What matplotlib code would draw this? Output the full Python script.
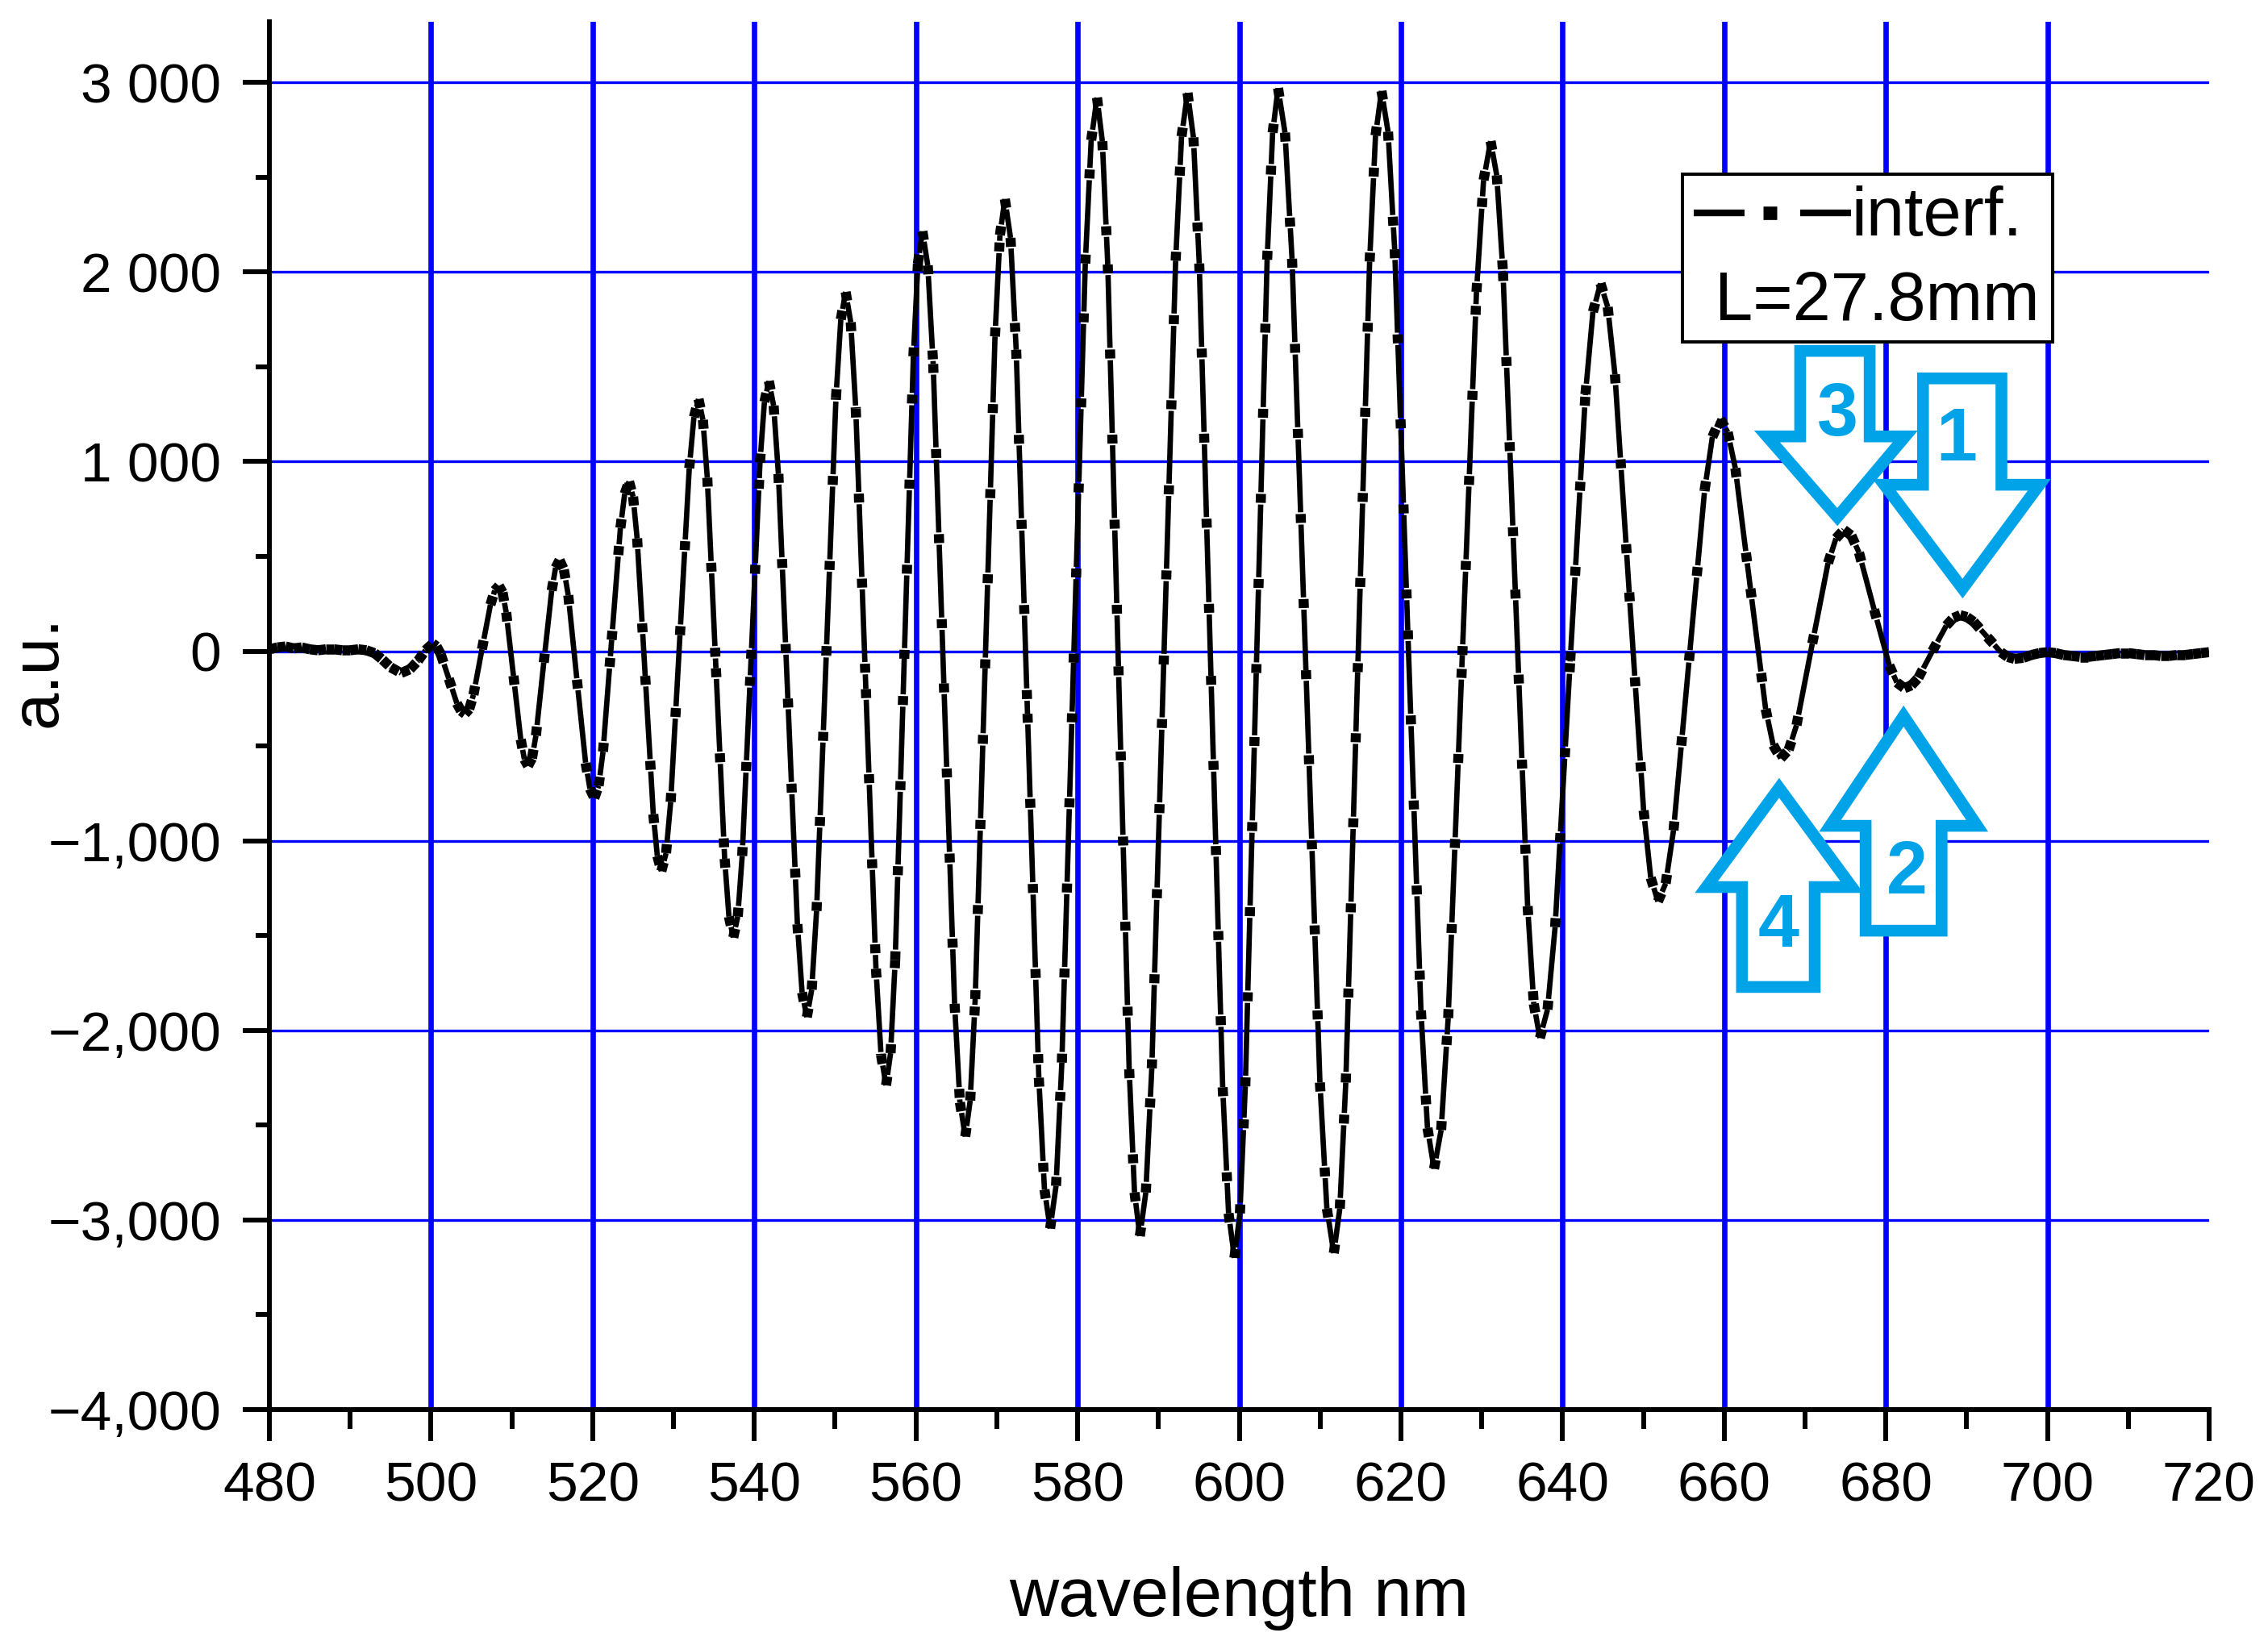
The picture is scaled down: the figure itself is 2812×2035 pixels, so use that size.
import numpy as np
import matplotlib
matplotlib.use('Agg')
import matplotlib.pyplot as plt
from matplotlib.collections import LineCollection
from matplotlib.lines import Line2D
from matplotlib.patches import Polygon, Rectangle
from matplotlib.ticker import MultipleLocator

plt.rcParams['font.family'] = ['Liberation Sans', 'DejaVu Sans']
plt.rcParams['lines.scale_dashes'] = False

# ---------------- data ----------------
wavelength = [
    480, 481, 482, 483, 484, 485, 486, 487, 488, 489, 490, 491, 492, 493, 494, 495,
    496.3, 497.4, 498.4, 499.3,
    500.2, 500.7, 501.2, 502.2, 503.2, 503.7,
    504.2, 504.73, 505.25, 506.3, 507.35, 507.88,
    508.4, 508.85, 509.3, 510.2, 511.1, 511.55,
    512.0, 512.49, 512.98, 513.95, 514.93, 515.41,
    515.9, 516.44, 516.98, 518.05, 519.13, 519.66,
    520.2, 520.74, 521.28, 522.35, 523.43, 523.96,
    524.5, 525.0, 525.5, 526.5, 527.5, 528.0,
    528.5, 529.08, 529.65, 530.8, 531.95, 532.53,
    533.1, 533.64, 534.18, 535.25, 536.33, 536.86,
    537.4, 537.95, 538.5, 539.6, 540.7, 541.25,
    541.8, 542.39, 542.98, 544.15, 545.33, 545.91,
    546.5, 547.1, 547.7, 548.9, 550.1, 550.7,
    551.3, 551.93, 552.55, 553.8, 555.05, 555.68,
    556.3, 556.86, 557.43, 558.55, 559.68, 560.24,
    560.8, 561.46, 562.13, 563.45, 564.78, 565.44,
    566.1, 566.71, 567.33, 568.55, 569.78, 570.39,
    571.0, 571.7, 572.4, 573.8, 575.2, 575.9,
    576.6, 577.33, 578.05, 579.5, 580.95, 581.68,
    582.4, 583.06, 583.73, 585.05, 586.38, 587.04,
    587.7, 588.44, 589.18, 590.65, 592.13, 592.86,
    593.6, 594.33, 595.05, 596.5, 597.95, 598.68,
    599.4, 600.08, 600.75, 602.1, 603.45, 604.13,
    604.8, 605.66, 606.53, 608.25, 609.98, 610.84,
    611.7, 612.44, 613.18, 614.65, 616.13, 616.86,
    617.6, 618.41, 619.23, 620.85, 622.48, 623.29,
    624.1, 624.98, 625.85, 627.6, 629.35, 630.23,
    631.1, 631.86, 632.63, 634.15, 635.68, 636.44,
    637.2, 638.14, 639.08, 640.95, 642.83, 643.76,
    644.7, 645.59, 646.48, 648.25, 650.03, 650.91,
    651.8, 652.76, 653.73, 655.65, 657.58, 658.54,
    659.5, 660.44, 661.38, 663.25, 665.13, 666.06,
    667.0, 667.98, 668.95, 670.9, 672.85, 673.83,
    674.8, 675.74, 676.68, 678.55, 680.43, 681.36,
    682.3, 683.16, 684.03, 685.75, 687.48, 688.34,
    689.2, 690.04, 690.88, 692.55, 694.23, 695.06,
    695.9, 697, 698, 699, 700, 701, 702, 703, 704, 705, 706, 707, 708,
    709, 710, 711, 712, 713, 714, 715, 716, 717, 718, 719, 720,
]
signal = [
    10, 20, 25, 15, 20, 10, 5, 10, 10, 5, 5, 10, 5, -10, -45, -85,
    -115, -95, -50, 5,
    40, 25, -15, -145, -275, -315,
    -330, -305, -230, 10, 245, 320,
    345, 310, 205, -130, -465, -570,
    -605, -565, -445, -60, 320, 440,
    480, 430, 295, -150, -590, -725,
    -775, -710, -530, 60, 650, 830,
    895, 815, 595, -130, -860, -1080,
    -1160, -1065, -795, 85, 965, 1235,
    1330, 1220, 915, -90, -1095, -1400,
    -1510, -1400, -1080, -40, 995, 1315,
    1425, 1295, 935, -250, -1440, -1800,
    -1930, -1785, -1370, -20, 1335, 1750,
    1895, 1735, 1280, -200, -1675, -2130,
    -2290, -2120, -1630, -40, 1555, 2045,
    2215, 2035, 1515, -170, -1860, -2380,
    -2560, -2370, -1835, -90, 1660, 2195,
    2385, 2180, 1590, -330, -2250, -2840,
    -3045, -2820, -2170, -60, 2045, 2695,
    2920, 2690, 2040, -80, -2205, -2855,
    -3085, -2855, -2200, -70, 2060, 2715,
    2945, 2710, 2045, -130, -2300, -2965,
    -3200, -2965, -2295, -115, 2065, 2735,
    2970, 2735, 2070, -100, -2275, -2940,
    -3175, -2940, -2275, -110, 2055, 2720,
    2955, 2740, 2120, 110, -1895, -2515,
    -2730, -2525, -1935, -20, 1895, 2485,
    2690, 2510, 2000, 325, -1345, -1860,
    -2040, -1890, -1455, -50, 1355, 1790,
    1940, 1815, 1460, 310, -840, -1195,
    -1320, -1225, -945, -50, 850, 1130,
    1225, 1155, 965, 330, -305, -495,
    -565, -520, -390, 40, 465, 595,
    640, 610, 520, 220, -75, -165,
    -195, -180, -140, 0, 135, 175,
    190, 180, 155, 75, -5, -30,
    -40, -35, -20, -10, -5, -10, -20, -25, -30, -30, -25, -20, -15,
    -10, -10, -15, -20, -20, -25, -25, -20, -20, -15, -10, -5,
]

x_ticks = [480, 500, 520, 540, 560, 580, 600, 620, 640, 660, 680, 700, 720]
x_tick_labels = ['480', '500', '520', '540', '560', '580', '600', '620', '640',
                 '660', '680', '700', '720']
y_ticks = [-4000, -3000, -2000, -1000, 0, 1000, 2000, 3000]
y_tick_labels = ['\u22124,000', '\u22123,000', '\u22122,000', '\u22121,000', '0',
                 '1 000', '2 000', '3 000']

x_label = 'wavelength nm'
y_label = 'a.u.'
legend_label = 'interf.'
legend_note = 'L=27.8mm'
arrow_numbers = ['1', '2', '3', '4']

# ---------------- figure ----------------
W, H = 2812, 2035
fig = plt.figure(figsize=(W / 100, H / 100), dpi=100)
ax = fig.add_axes([334 / W, 1 - 1748 / H, (2739 - 334) / W, (1748 - 27) / H])
ax.set_xlim(480, 720)
ax.set_ylim(-4000, 3320)

grid_blue = '#0000FF'
for xv in x_ticks[1:-1]:
    ax.axvline(xv, color=grid_blue, lw=4.8, zorder=1)
for yv in y_ticks[1:]:
    ax.axhline(yv, color=grid_blue, lw=2.4, zorder=1)

# data line: Origin-like dash-dot, pattern restarting on every data segment
pts = np.column_stack([wavelength, signal])
segs = np.stack([pts[:-1], pts[1:]], axis=1)
dash_part = LineCollection(segs, colors='black', linewidths=4.8,
                           linestyles=[(66.5, (65, 11))], capstyle='butt', zorder=3)
dot_part = LineCollection(segs, colors='black', linewidths=9.0,
                          linestyles=[(0, (8, 68))], capstyle='butt', zorder=3)
ax.add_collection(dash_part)
ax.add_collection(dot_part)

# spines / ticks
for s in ['top', 'right']:
    ax.spines[s].set_visible(False)
for s in ['left', 'bottom']:
    ax.spines[s].set_linewidth(4.3)
    ax.spines[s].set_zorder(4)

ax.set_xticks(x_ticks)
ax.set_xticklabels(x_tick_labels)
ax.set_yticks(y_ticks)
ax.set_yticklabels(y_tick_labels)
ax.xaxis.set_minor_locator(MultipleLocator(10))
ax.yaxis.set_minor_locator(MultipleLocator(500))
ax.tick_params(axis='x', which='major', direction='out', length=28, width=4.3,
               pad=18, labelsize=50)
ax.tick_params(axis='x', which='minor', direction='out', length=17, width=4.3)
ax.tick_params(axis='y', which='major', direction='out', length=24, width=4.3,
               pad=19, labelsize=50)
ax.tick_params(axis='y', which='minor', direction='out', length=12, width=4.3)

ax.set_xlabel(x_label, fontsize=61)
ax.xaxis.set_label_coords(0.5, -0.1127)
ax.set_ylabel(y_label, fontsize=60)
ax.yaxis.set_label_coords(-0.103, 0.532)

# hollow block arrows
arrow_blue = '#00A2E8'


def block_arrow(x0, x1, base, shoulder, hx0, hx1, tipx, tipy):
    return [(x0, base), (x1, base), (x1, shoulder), (hx1, shoulder), (tipx, tipy),
            (hx0, shoulder), (x0, shoulder)]


arrow_shapes = [
    block_arrow(684.6, 694.3, 1439, 878, 679.8, 699.0, 689.5, 330),      # 1 (down)
    block_arrow(677.5, 686.9, -1474, -921, 673.1, 691.3, 682.2, -342),   # 2 (up)
    block_arrow(669.4, 678.0, 1584, 1133, 665.3, 682.4, 674.0, 708),     # 3 (down)
    block_arrow(662.2, 671.2, -1771, -1244, 657.8, 675.8, 666.8, -721),  # 4 (up)
]
number_pos = [(688.7, 1147), (682.6, -1134), (674.0, 1282), (666.7, -1418)]
for verts, num, (tx, ty) in zip(arrow_shapes, arrow_numbers, number_pos):
    ax.add_patch(Polygon(verts, closed=True, facecolor='white', edgecolor=arrow_blue,
                         lw=10.5, joinstyle='miter', zorder=5))
    ax.text(tx, ty, num, color=arrow_blue, fontsize=66, fontweight='bold',
            ha='center', va='center_baseline', zorder=6)


# legend box (drawn manually to reproduce the Origin layout)
def fx(px):
    return px / W


def fy(py):
    return 1 - py / H


fig.add_artist(Rectangle((fx(2086), fy(424)), fx(2545) - fx(2086), fy(216.5) - fy(424),
                         transform=fig.transFigure, facecolor='white',
                         edgecolor='black', lw=2.9, zorder=5))
for xa, xb, lw in [(2100, 2163, 6), (2232, 2295, 6), (2186, 2203, 12)]:
    fig.add_artist(Line2D([fx(xa), fx(xb)], [fy(264), fy(264)],
                          transform=fig.transFigure, color='black', lw=lw,
                          solid_capstyle='butt', zorder=6))
fig.text(fx(2295), fy(292), legend_label, fontsize=61, ha='left', va='baseline',
         zorder=6)
fig.text(fx(2126), fy(397), legend_note, fontsize=61, ha='left', va='baseline',
         zorder=6)

fig.savefig('out.png', dpi=100, facecolor='white')
